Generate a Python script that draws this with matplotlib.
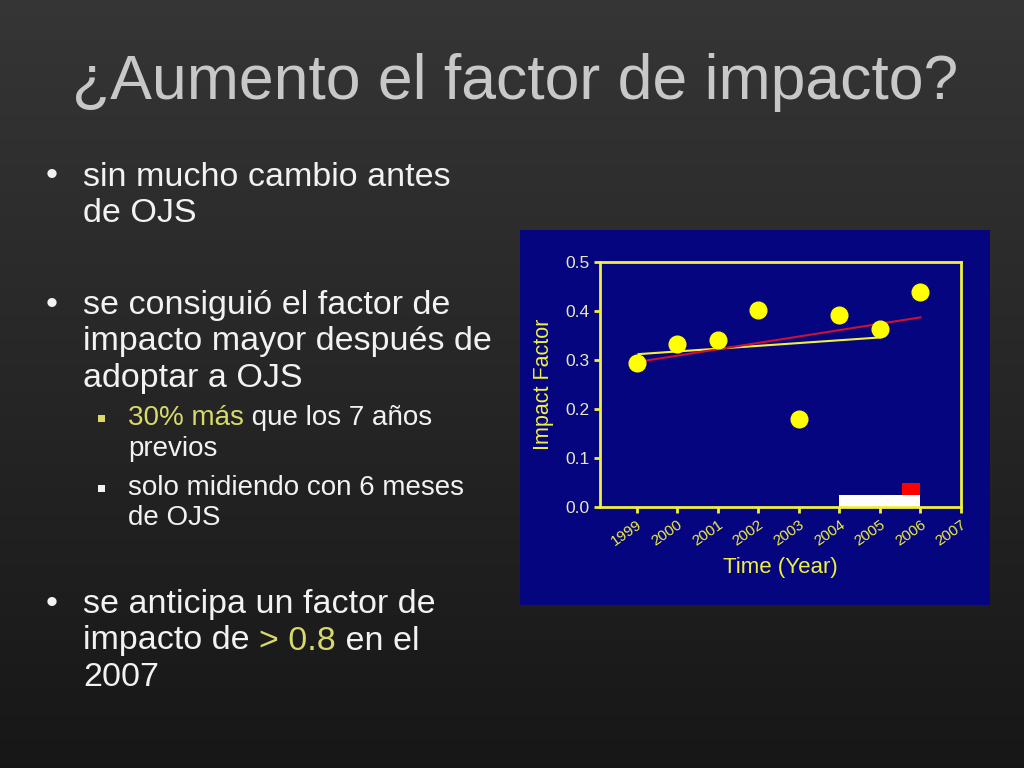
import numpy as np
import matplotlib.pyplot as plt
from matplotlib.patches import Rectangle

years = [1999, 2000, 2001, 2002, 2003, 2004, 2005, 2006]
impact = [0.293, 0.333, 0.340, 0.402, 0.179, 0.391, 0.364, 0.439]
# tendencias (inicio, fin)
trend_pre_x = [1999.05, 2005]
trend_pre_y = [0.312, 0.346]
trend_all_x = [1999.1, 2006]
trend_all_y = [0.297, 0.387]
# barras OJS
ojs_white = (2004, 2006, 0.0245)
ojs_red = (2005.54, 2006, 0.0245, 0.048)
xticks = list(range(1999, 2008))
yticks = [0.0, 0.1, 0.2, 0.3, 0.4, 0.5]

W, H = 1024, 768
fig = plt.figure(figsize=(10.24, 7.68), dpi=100)
plt.rcParams['font.family'] = ['Liberation Sans', 'DejaVu Sans']

# fondo degradado
bg = fig.add_axes([0, 0, 1, 1])
grad = np.linspace(0.21, 0.09, 256).reshape(-1, 1)
bg.imshow(np.dstack([grad, grad, grad]), aspect='auto', extent=[0, 1, 0, 1])
bg.set_xlim(0, 1)
bg.set_ylim(0, 1)
bg.axis('off')

def fx(px):
    return px / W

def fy(py):
    return 1 - py / H

yellow_txt = '#d9d96a'
white_txt = '#f2f2f2'

fig.text(fx(72), fy(82), '¿Aumento el factor de impacto?', fontsize=45,
         color='#c8c8c8', va='center', ha='left')

renderer = fig.canvas.get_renderer()

def line(x, y, parts, size):
    cur = fx(x)
    for txt, col in parts:
        t = fig.text(cur, fy(y), txt, fontsize=size, color=col, va='center', ha='left')
        bb = t.get_window_extent(renderer=renderer)
        cur = bb.x1 / W

def sub_marker(y, col):
    fig.patches.append(Rectangle((fx(98), fy(y + 4)), 7 / W, 7 / H, transform=fig.transFigure,
                                 facecolor=col, edgecolor='none'))

big = 24.5
small = 20
fig.text(fx(46), fy(177), '•', fontsize=big, color=white_txt, va='center')
line(83, 177, [('sin mucho cambio antes', white_txt)], big)
line(83, 213, [('de OJS', white_txt)], big)

fig.text(fx(46), fy(305), '•', fontsize=big, color=white_txt, va='center')
line(83, 305, [('se consiguió el factor de', white_txt)], big)
line(83, 341, [('impacto mayor después de', white_txt)], big)
line(83, 378, [('adoptar a OJS', white_txt)], big)

sub_marker(418, yellow_txt)
line(128, 418, [('30% más', yellow_txt), (' que los 7 años', white_txt)], small)
line(128, 449, [('previos', white_txt)], small)
sub_marker(488, white_txt)
line(128, 488, [('solo midiendo con 6 meses', white_txt)], small)
line(128, 518, [('de OJS', white_txt)], small)

fig.text(fx(46), fy(604), '•', fontsize=big, color=white_txt, va='center')
line(83, 604, [('se anticipa un factor de', white_txt)], big)
line(83, 641, [('impacto de ', white_txt), ('> 0.8', yellow_txt), (' en el', white_txt)], big)
line(83, 678, [('2007', white_txt)], big)

# panel azul
navy = '#05057f'
fig.patches.append(Rectangle((fx(520), fy(605)), fx(990) - fx(520), fy(230) - fy(605),
                             transform=fig.transFigure, facecolor=navy, edgecolor='none', zorder=1))

ax = fig.add_axes([fx(600), fy(507), fx(961) - fx(600), fy(262) - fy(507)])
ax.set_facecolor(navy)
ax.set_zorder(2)
ylw = '#f0f03c'
for s in ax.spines.values():
    s.set_color(ylw)
    s.set_linewidth(2)

ax.bar(ojs_white[0], ojs_white[2], width=ojs_white[1] - ojs_white[0], align='edge',
       color='white', zorder=2)
ax.bar(ojs_red[0], ojs_red[3] - ojs_red[2], bottom=ojs_red[2], width=ojs_red[1] - ojs_red[0],
       align='edge', color='#ff0000', zorder=2)
ax.plot(trend_pre_x, trend_pre_y, color='#f0f03c', lw=1.5, zorder=3)
ax.plot(trend_all_x, trend_all_y, color='#cc1133', lw=1.5, zorder=3)
ax.plot(years, impact, 'o', color='#ffff00', markersize=12, zorder=4)

ax.set_xlim(1998.1, 2007)
ax.set_ylim(0, 0.5)
ax.set_xticks(xticks)
ax.set_xticklabels([str(v) for v in xticks], rotation=35, ha='right', rotation_mode='anchor',
                   color=ylw, fontsize=11)
ax.set_yticks(yticks)
ax.set_yticklabels(['%.1f' % v for v in yticks], color='#e8e8c0', fontsize=12.5)
ax.tick_params(colors=ylw, width=2, length=4)
ax.tick_params(axis='y', labelcolor='#e8e8c0')
ax.tick_params(axis='x', labelcolor=ylw)
ax.set_ylabel('Impact Factor', color=ylw, fontsize=15.5, labelpad=8)
ax.set_xlabel('Time (Year)', color=ylw, fontsize=16, labelpad=6)

fig.savefig('out.png', dpi=100)
